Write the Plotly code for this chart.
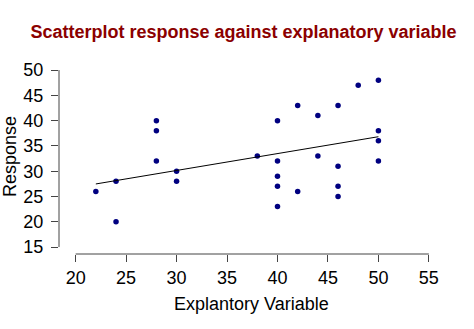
import numpy as np
import plotly.graph_objects as go

x_vals = [22, 24, 24, 28, 28, 28, 30, 30, 38, 40, 40, 40, 40, 40, 42, 42, 44, 44, 46, 46, 46, 46, 48, 50, 50, 50, 50]
y_vals = [26, 28, 20, 40, 38, 32, 30, 28, 33, 40, 32, 29, 27, 23, 43, 26, 41, 33, 43, 31, 27, 25, 47, 48, 38, 36, 32]
x_ticks = [20, 25, 30, 35, 40, 45, 50, 55]
y_ticks = [15, 20, 25, 30, 35, 40, 45, 50]

slope, intercept = np.polyfit(x_vals, y_vals, 1)
line_x = [min(x_vals), max(x_vals)]
line_y = [intercept + slope * v for v in line_x]

W, H = 474, 329
L, R, T, B = 59, 31, 63, 75
pw, ph = W - L - R, H - T - B

fig = go.Figure()
fig.add_trace(go.Scatter(x=x_vals, y=y_vals, mode="markers",
                         marker=dict(color="#000080", size=5.5), showlegend=False))
fig.add_trace(go.Scatter(x=line_x, y=line_y, mode="lines",
                         line=dict(color="black", width=1), showlegend=False))

axcol = "#444444"
fig.add_shape(type="line", xref="x", yref="paper", x0=x_ticks[0], x1=x_ticks[-1], y0=0, y1=0,
              line=dict(color=axcol, width=1))
fig.add_shape(type="line", xref="paper", yref="y", x0=0, x1=0, y0=y_ticks[0], y1=y_ticks[-1],
              line=dict(color=axcol, width=1))

fig.add_annotation(text="Response", xref="paper", yref="paper", x=(10 - L) / pw, y=(H - B - 157) / ph,
                   textangle=-90, showarrow=False, xanchor="center", yanchor="middle",
                   font=dict(family="Liberation Sans, Arial", size=18, color="black"))
fig.add_annotation(text="Explantory Variable", xref="paper", yref="paper", x=0.5, y=(H - B - 304) / ph,
                   showarrow=False, xanchor="center", yanchor="middle",
                   font=dict(family="Liberation Sans, Arial", size=18, color="black"))

fig.update_layout(
    width=W, height=H,
    margin=dict(l=L, r=R, t=T, b=B),
    paper_bgcolor="white", plot_bgcolor="white",
    title=dict(text="<b>Scatterplot response against explanatory variable</b>",
               x=243.5 / W, xanchor="center", y=1 - 32 / H, yanchor="middle",
               font=dict(family="Liberation Sans, Arial", size=18, color="#8B0000")),
    xaxis=dict(range=[18.35, 56.4], tickvals=x_ticks, ticks="outside", ticklen=7, tickcolor=axcol,
               showgrid=False, zeroline=False, showline=False,
               tickfont=dict(family="Liberation Sans, Arial", size=18, color="black")),
    yaxis=dict(range=[13.62, 51.4], tickvals=y_ticks, ticks="outside", ticklen=7, tickcolor=axcol,
               showgrid=False, zeroline=False, showline=False, ticklabelstandoff=4,
               tickfont=dict(family="Liberation Sans, Arial", size=18, color="black")),
)

fig.write_html("out.html")
